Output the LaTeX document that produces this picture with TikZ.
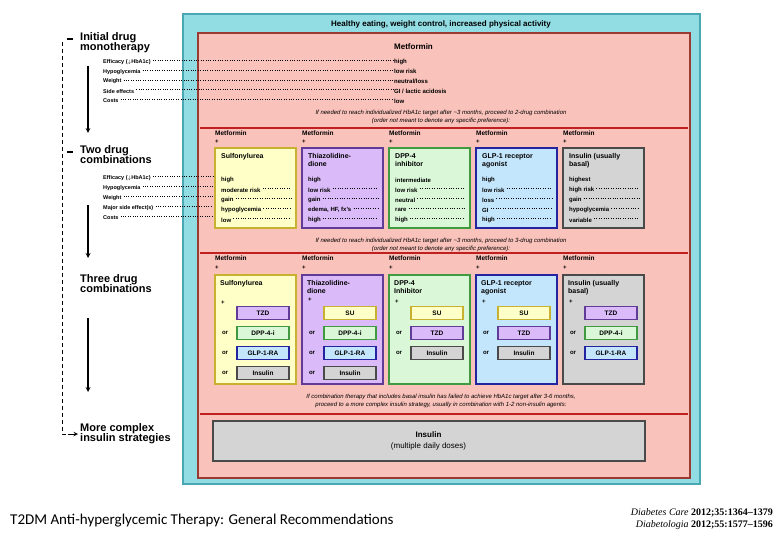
\documentclass[tikz,border=0pt]{standalone}
\usepackage{fontspec}
\setmainfont{Liberation Sans}
\newfontfamily\capfont{Carlito}
\newfontfamily\reffont{Liberation Serif}
\usetikzlibrary{positioning}
\definecolor{cyanbg}{HTML}{92DCE4}
\definecolor{cyanbd}{HTML}{4AA8B4}
\definecolor{pinkbg}{HTML}{F9C2BA}
\definecolor{pinkbd}{HTML}{9A3A30}
\definecolor{redline}{HTML}{C02020}
\definecolor{sufill}{HTML}{FFFFC8}
\definecolor{sudraw}{HTML}{C8B030}
\definecolor{tzfill}{HTML}{DABAF8}
\definecolor{tzdraw}{HTML}{603C98}
\definecolor{dpfill}{HTML}{DAF8D8}
\definecolor{dpdraw}{HTML}{409A40}
\definecolor{glfill}{HTML}{C4E6FC}
\definecolor{gldraw}{HTML}{2424A0}
\definecolor{infill}{HTML}{D4D4D4}
\definecolor{indraw}{HTML}{4A4A4A}
\tikzset{
  small/.style={font=\fontsize{6}{7}\selectfont\bfseries},
  note/.style={font=\fontsize{6}{7.5}\selectfont\itshape, align=center},
  side/.style={font=\fontsize{11}{10.5}\selectfont\bfseries, align=left, anchor=north west},
  drugbox/.style={draw=#1draw, fill=#1fill, line width=2pt},
  subdrug/.style={draw=#1draw, fill=#1fill, line width=1.6pt, minimum width=52pt,
    minimum height=13pt, font=\fontsize{6.5}{7}\selectfont\bfseries},
  dots/.style={dotted, line width=0.4pt},
  flow/.style={-stealth, line width=1.2pt}
}
\begin{document}
\begin{tikzpicture}[x=1pt,y=-1pt]
    \tikzstyle{every node}+=[inner sep=0pt]
    \useasboundingbox (0,0) rectangle (780,540);
    % background frames
    \draw [cyanbd, fill=cyanbg, line width=1.5pt] (183,14) rectangle (700,484);
    \node [font=\fontsize{8}{9}\selectfont\bfseries] (life) at (441,24)
        {Healthy eating, weight control, increased physical activity};
    \draw [pinkbd, fill=pinkbg, line width=1.2pt] (198,33) rectangle (690,478);
    % monotherapy
    \node [font=\fontsize{8}{9}\selectfont\bfseries, anchor=west] (mono) at (394,47) {Metformin};
    \foreach \t [count=\i] in {high, low risk, neutral/loss, GI / lactic acidosis, low}
      \node [small, anchor=west] (m\i) at (394,52+9.8*\i) {\t};
    \node [note] (n1) at (441,117) {If needed to reach individualized HbA1c target after \textasciitilde3 months, proceed to 2-drug combination\\(order not meant to denote any specific preference):};
    \draw [redline, line width=1.2pt] (200,128) -- (688,128);
    % two drug combinations
    \coordinate (boxl) at (213,0);
    \foreach \x/\c/\ta/\tb/\va/\vb/\vc/\vd/\ve in {
        215/su/Sulfonylurea//high/moderate risk/gain/hypoglycemia/low,
        302/tz/Thiazolidine-/dione/high/low risk/gain/{edema, HF, fx's}/high,
        389/dp/DPP-4/inhibitor/intermediate/low risk/neutral/rare/high,
        476/gl/GLP-1 receptor/agonist/high/low risk/loss/GI/high,
        563/in/Insulin (usually/basal)/highest/high risk/gain/hypoglycemia/variable} {
      \node [anchor=west, font=\fontsize{6.5}{7}\selectfont\bfseries] (a\c) at (\x,133) {Metformin};
      \node [small, anchor=west] (p\c) at (\x,142) {+};
      \draw [drugbox=\c] (\x,148) rectangle ++(81,80);
      \coordinate (rr\c) at (\x+76,0);
      \node [anchor=north west, align=left, font=\fontsize{7}{8}\selectfont\bfseries] (t\c) at (\x+6,153) {\ta\\\tb};
      \node [small, anchor=west] (v\c1) at (\x+6,180) {\va};
      \node [small, anchor=west] (v\c2) at (\x+6,190) {\vb};
      \node [small, anchor=west] (v\c3) at (\x+6,200) {\vc};
      \node [small, anchor=west] (v\c4) at (\x+6,210) {\vd};
      \node [small, anchor=west] (v\c5) at (\x+6,220) {\ve};
      \foreach \k in {2,...,5}
        \draw [dots] ([xshift=2pt,yshift=1.5pt]v\c\k.east) -- ([yshift=1.5pt]v\c\k.east -| rr\c);
    }
    \node [note] (n2) at (441,245) {If needed to reach individualized HbA1c target after \textasciitilde3 months, proceed to 3-drug combination\\(order not meant to denote any specific preference):};
    \draw [redline, line width=1.2pt] (200,253) -- (688,253);
    % three drug combinations
    \foreach \x/\c/\ta/\tb/\py in {
        215/su/Sulfonylurea//303, 302/tz/Thiazolidine-/dione/300,
        389/dp/DPP-4/Inhibitor/302, 476/gl/GLP-1 receptor/agonist/302,
        563/in/Insulin (usually/basal)/302} {
      \node [anchor=west, font=\fontsize{6.5}{7}\selectfont\bfseries] (b\c) at (\x,258) {Metformin};
      \node [small, anchor=west] (q\c) at (\x,268) {+};
      \draw [drugbox=\c] (\x,275) rectangle ++(81,109);
      \node [anchor=north west, align=left, font=\fontsize{7}{8}\selectfont\bfseries] (u\c) at (\x+5,280) {\ta\\\tb};
      \node [small, anchor=west] (r\c) at (\x+6,\py) {+};
    }
    \foreach \x/\c/\k/\d/\t in {
        215/su/1/tz/TZD, 215/su/2/dp/DPP-4-i, 215/su/3/gl/GLP-1-RA, 215/su/4/in/Insulin,
        302/tz/1/su/SU, 302/tz/2/dp/DPP-4-i, 302/tz/3/gl/GLP-1-RA, 302/tz/4/in/Insulin,
        389/dp/1/su/SU, 389/dp/2/tz/TZD, 389/dp/3/in/Insulin,
        476/gl/1/su/SU, 476/gl/2/tz/TZD, 476/gl/3/in/Insulin,
        563/in/1/tz/TZD, 563/in/2/dp/DPP-4-i, 563/in/3/gl/GLP-1-RA} {
      \node [subdrug=\d] (s\c\k) at (\x+48,{313+20*(\k-1)}) {\t};
      \ifnum\k>1
        \node [small, left=8pt of s\c\k] (o\c\k) {or};
      \fi
    }
    \node [note] (n3) at (441,401) {If combination therapy that includes basal insulin has failed to achieve HbA1c target after 3-6 months,\\proceed to a more complex insulin strategy, usually in combination with 1-2 non-insulin agents:};
    \draw [redline, line width=1.2pt] (200,414) -- (688,414);
    \node [draw=indraw, fill=infill, line width=2pt, minimum width=432pt, minimum height=40pt,
        align=center, font=\fontsize{8}{11}\selectfont] (mdi) at (428.5,440.5)
        {\textbf{Insulin}\\(multiple daily doses)};
    % left-hand steps
    \node [side] (s1) at (80,32) {Initial drug\\monotherapy};
    \node [side] (s2) at (80,145) {Two drug\\combinations};
    \node [side] (s3) at (80,274) {Three drug\\combinations};
    \node [side] (s4) at (80,423) {More complex\\insulin strategies};
    \foreach \t [count=\i] in {Efficacy ($\downarrow$HbA1c), Hypoglycemia, Weight, Side effects, Costs}
      \node [small, font=\fontsize{5.5}{6}\selectfont\bfseries, anchor=west] (e\i) at (103,52+9.8*\i) {\t};
    \foreach \i in {1,...,5}
      \draw [dots] ([xshift=2pt,yshift=1.5pt]e\i.east) -- ([yshift=1.5pt]e\i.east -| m\i.west);
    \foreach \t [count=\i] in {Efficacy ($\downarrow$HbA1c), Hypoglycemia, Weight, Major side effect(s), Costs}
      \node [small, font=\fontsize{5.5}{6}\selectfont\bfseries, anchor=west] (f\i) at (103,168+10*\i) {\t};
    \foreach \i in {1,...,5}
      \draw [dots] ([xshift=2pt,yshift=1.5pt]f\i.east) -- ([yshift=1.5pt]f\i.east -| boxl);
    \draw [flow] (88,66) -- (88,133);
    \draw [flow] (88,205) -- (88,258);
    \draw [flow] (88,318) -- (88,392);
    \draw [line width=1.2pt] (67,39) -- (73,39) (67,152) -- (73,152);
    \draw [dash pattern=on 4pt off 3pt, line width=1pt] (62,42) -- (62,434) -- (66,434);
    \draw [-stealth, line width=1pt] (68,434) -- (78,434);
    % caption
    \node [font=\capfont\fontsize{15}{16}\selectfont, anchor=west] (cap) at (10,521)
        {T2DM Anti-hyperglycemic Therapy: General Recommendations};
    \node [font=\reffont\fontsize{10}{12}\selectfont, align=right, anchor=east] (refs) at (773,519)
        {\textit{Diabetes Care} \textbf{2012;35:1364\textendash1379}\\\textit{Diabetologia} \textbf{2012;55:1577\textendash1596}};
\end{tikzpicture}
\end{document}
